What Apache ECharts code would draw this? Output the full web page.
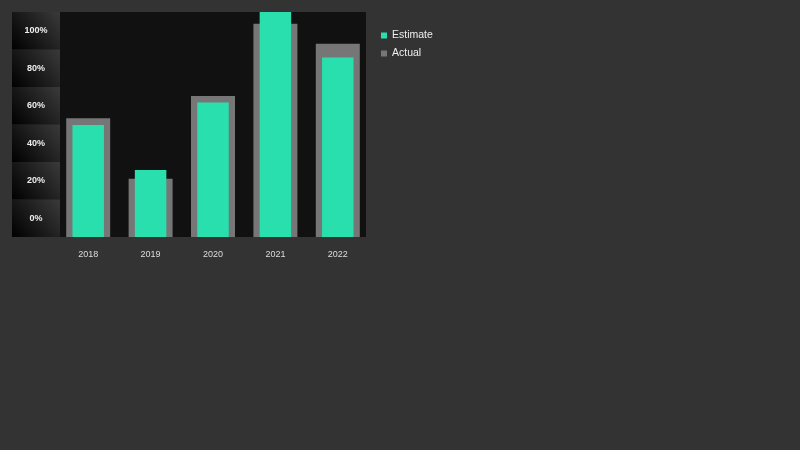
<!DOCTYPE html>
<html><head><meta charset="utf-8">
<script src="https://cdn.jsdelivr.net/npm/echarts@6/dist/echarts.min.js"></script>
<style>html,body{margin:0;padding:0;background:#333;}#c{width:800px;height:450px;}</style>
</head><body><div id="c"></div>
<script>
const categories = ['2018', '2019', '2020', '2021', '2022'];
const estimate = [59.7, 35.7, 71.8, 120, 95.8];
const actual = [63.3, 31.1, 75.2, 113.8, 103.1];
const tickLabels = ['0%', '20%', '40%', '60%', '80%', '100%'];

const chart = echarts.init(document.getElementById('c'));
const cellGrad = () => new echarts.graphic.LinearGradient(0, 1, 1, 0, [
  {offset: 0, color: '#000000'}, {offset: 1, color: '#3a3a3a'}
]);
chart.setOption({
  backgroundColor: '#333333',
  animation: false,
  textStyle: {fontFamily: 'Liberation Sans, Arial, sans-serif'},
  graphic: [{type: 'rect', shape: {x: 60, y: 12, width: 306, height: 225}, style: {fill: '#111111'}, z: -10}],
  legend: {
    orient: 'vertical', left: 376, top: 25, itemWidth: 6, itemHeight: 6, itemGap: 7,
    icon: 'rect', data: ['Estimate', 'Actual'],
    textStyle: {color: '#eeeeee', fontSize: 10.5}
  },
  grid: [
    {left: 12, top: 12, width: 48, height: 225},
    {left: 57, top: 12, width: 312, height: 225}
  ],
  xAxis: [
    {gridIndex: 0, type: 'value', show: false, min: 0, max: 1},
    {gridIndex: 1, type: 'category', data: categories,
      axisLine: {show: false}, axisTick: {show: false},
      axisLabel: {color: '#dddddd', fontSize: 9, margin: 13}},
    {gridIndex: 1, type: 'category', data: categories, show: false}
  ],
  yAxis: [
    {gridIndex: 0, type: 'category', data: tickLabels,
      axisLine: {show: false}, axisTick: {show: false},
      axisLabel: {color: '#eeeeee', fontSize: 9, fontWeight: 'bold', margin: -24, align: 'center'},
      splitArea: {show: true, areaStyle: {color: tickLabels.map(cellGrad)}}},
    {gridIndex: 1, type: 'value', min: 0, max: 120, show: false, splitLine: {show: false}}
  ],
  series: [
    {name: 'Actual', type: 'bar', xAxisIndex: 1, yAxisIndex: 1, data: actual,
      barWidth: 44, itemStyle: {color: '#767676'}},
    {name: 'Estimate', type: 'bar', xAxisIndex: 2, yAxisIndex: 1, data: estimate,
      barWidth: 31.5, itemStyle: {color: '#29dfae'}}
  ]
});
</script></body></html>
